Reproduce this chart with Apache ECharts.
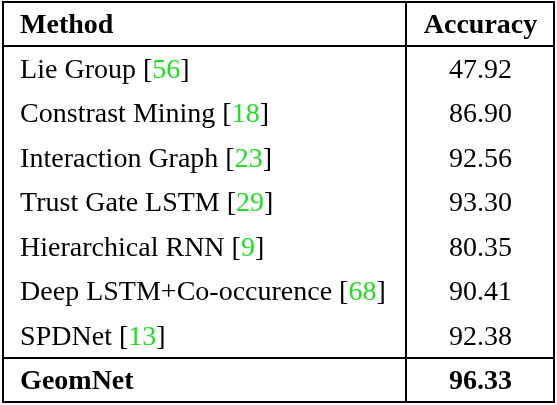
<!DOCTYPE html>
<html>
<head>
<meta charset="utf-8">
<style>
  html, body { margin: 0; padding: 0; background: #fff; }
  #main { width: 557px; height: 405px; }
</style>
<script src="https://cdn.jsdelivr.net/npm/echarts@6/dist/echarts.min.js"></script>
</head>
<body>
<div id="main"></div>
<script>
// table content
const headers = ['Method', 'Accuracy'];
const methods = ['Lie Group', 'Constrast Mining', 'Interaction Graph', 'Trust Gate LSTM',
  'Hierarchical RNN', 'Deep LSTM+Co-occurence', 'SPDNet'];
const refs = ['56', '18', '23', '29', '9', '68', '13'];
const accuracy = [47.92, 86.90, 92.56, 93.30, 80.35, 90.41, 92.38];
const oursName = 'GeomNet';
const oursAcc = 96.33;

// layout (fractions of table width)
const colSplit = 0.7301;
const padLeft = 0.031;
const accCenter = 0.865;
const green = '#1ee01e';
const fontFamily = '"Liberation Serif", "Times New Roman", serif';

const rowNames = [headers[0]].concat(methods, [oursName]);
const lastRow = rowNames.length - 1;

function cellText(i) {
  if (i === 0) return { left: headers[0], right: headers[1], bold: true };
  if (i === lastRow) return { left: oursName, right: oursAcc.toFixed(2), bold: true };
  return {
    left: methods[i - 1] + ' [{g|' + refs[i - 1] + '}]',
    right: accuracy[i - 1].toFixed(2),
    bold: false
  };
}

var chart = echarts.init(document.getElementById('main'), null, { renderer: 'canvas' });

function crisp(v) { return Math.round(v); }

var option = {
  animation: false,
  backgroundColor: '#fff',
  grid: { left: 3, right: 2, top: 2, bottom: 3 },
  xAxis: { type: 'value', min: 0, max: 1, show: false },
  yAxis: { type: 'category', data: rowNames, inverse: true, show: false },
  series: [{
    type: 'custom',
    data: rowNames.map(function (n, i) { return [0, i]; }),
    encode: { x: 0, y: 1 },
    renderItem: function (params, api) {
      const i = params.dataIndex;
      const c = api.coord([0, i]);
      const h = api.size([0, 1])[1];
      const top = crisp(c[1] - h / 2), bot = crisp(c[1] + h / 2);
      const x0 = crisp(api.coord([0, i])[0]);
      const x1 = crisp(api.coord([colSplit, i])[0]);
      const x2 = crisp(api.coord([1, i])[0]) - 1;
      const lineStyle = { stroke: '#000', lineWidth: 2, lineCap: 'square' };
      const children = [];
      if (i === 0) {
        // vertical rules over the whole table, drawn once
        const tableBot = crisp(api.coord([0, lastRow])[1] + h / 2);
        [x0, x1, x2].forEach(function (x) {
          children.push({ type: 'line', shape: { x1: x, y1: top, x2: x, y2: tableBot }, style: lineStyle });
        });
        children.push({ type: 'line', shape: { x1: x0, y1: top, x2: x2, y2: top }, style: lineStyle });
      }
      if (i === 0 || i === lastRow - 1 || i === lastRow) {
        children.push({ type: 'line', shape: { x1: x0, y1: bot, x2: x2, y2: bot }, style: lineStyle });
      }
      const t = cellText(i);
      const weight = t.bold ? 'bold' : 'normal';
      const ty = c[1] + 2;
      children.push({
        type: 'text',
        style: {
          x: api.coord([padLeft, i])[0], y: ty,
          text: t.left, fill: '#000', fontSize: 28, fontFamily: fontFamily, fontWeight: weight,
          align: 'left', verticalAlign: 'middle',
          rich: { g: { fill: green, fontSize: 28, fontFamily: fontFamily } }
        }
      });
      children.push({
        type: 'text',
        style: {
          x: api.coord([accCenter, i])[0], y: ty,
          text: t.right, fill: '#000', fontSize: 28, fontFamily: fontFamily, fontWeight: weight,
          align: 'center', verticalAlign: 'middle'
        }
      });
      return { type: 'group', children: children };
    }
  }]
};

chart.setOption(option);
window.addEventListener('resize', chart.resize);
</script>
</body>
</html>
